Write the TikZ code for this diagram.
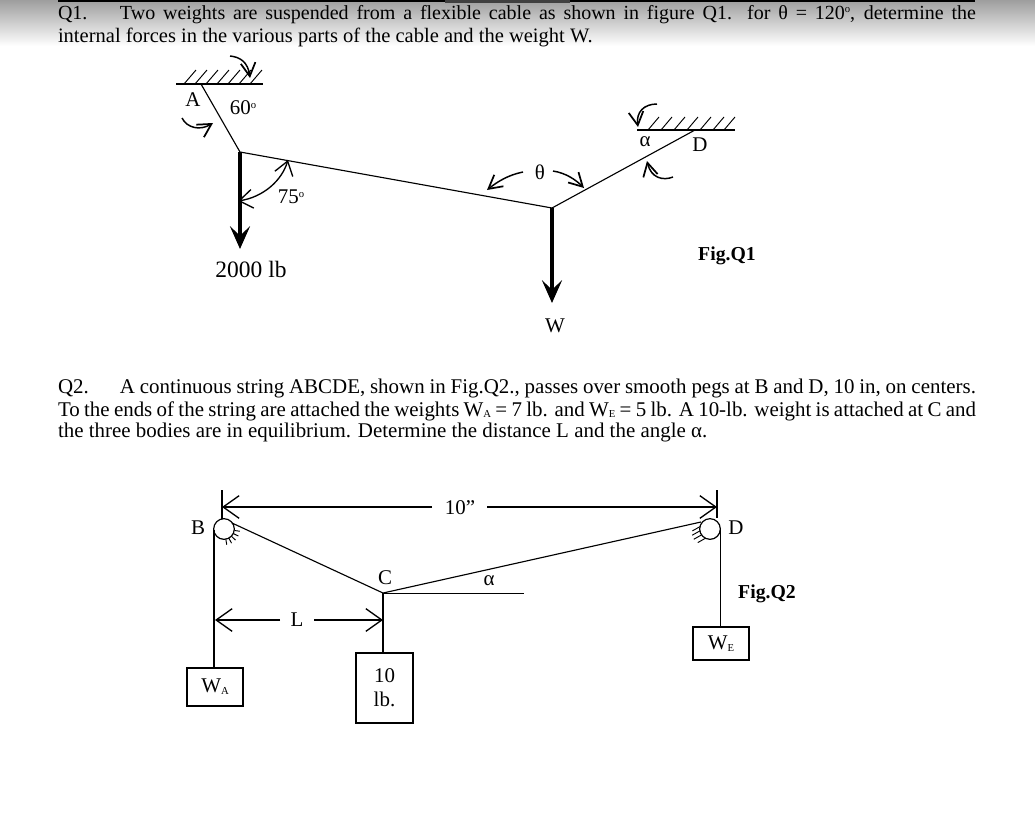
\documentclass[tikz,border=0pt]{standalone}
\usepackage{fontspec}
\setmainfont{Liberation Serif}
\usetikzlibrary{arrows.meta}
\newcommand{\subsc}[1]{\raisebox{-0.2ex}{\footnotesize #1}}
\newcommand{\supsc}[1]{\raisebox{0.7ex}{\footnotesize #1}}
\newcommand{\jline}[1]{\makebox[688.5pt][s]{#1}}
\tikzset{
  x=0.75pt,y=-0.75pt,
  every node/.style={font=\fontsize{15.7pt}{17pt}\selectfont,inner sep=0pt,outer sep=0pt},
  para/.style={anchor=base west},
  lab/.style={anchor=center},
  wire/.style={line width=0.85pt,black},
  bothends/.style={line width=1pt,{Straight Barb[length=10pt,width=14pt,line width=1pt]}-{Straight Barb[length=10pt,width=14pt,line width=1pt]}},
  dim/.style={line width=1pt,-{Straight Barb[length=12pt,width=17pt,line width=1pt]}},
  curl/.style={line width=1.1pt,-{Straight Barb[length=10pt,width=11pt,line width=1.3pt]}},
  load/.style={line width=2.6pt,-{Stealth[length=17pt,width=15pt,inset=7pt]}},
  hatch/.style={line width=0.7pt},
  weightbox/.style={draw,line width=0.9pt,anchor=north west,align=center},
  peg/.style={draw,circle,line width=0.9pt,fill=white},
}
\begin{document}
\begin{tikzpicture}
\useasboundingbox (0,0) rectangle (1035,825);
\shade[top color=black!38,bottom color=white] (0,0) rectangle (1035,46);
\fill[black] (58,0) rectangle (975,1.5);
\fill[black!75] (445,0) rectangle (570,3);

% texts
\node[para,font=\fontsize{15pt}{17pt}\selectfont] (t1) at (58,19) {\jline{\makebox[46.5pt][l]{Q1.}Two weights are suspended from a flexible cable as shown in figure Q1. for θ = 120\supsc{o}, determine the}};
\node[para,font=\fontsize{15.4pt}{17pt}\selectfont] (t2) at (58,42) {internal forces in the various parts of the cable and the weight W.};
\node[para] (t3) at (58,393.5) {\jline{\makebox[46.5pt][l]{Q2.}A continuous string ABCDE, shown in Fig.Q2., passes over smooth pegs at B and D, 10 in, on centers.}};
\node[para] (t4) at (58,416) {\jline{To the ends of the string are attached the weights W\subsc{A} = 7 lb. and W\subsc{E} = 5 lb. A 10-lb. weight is attached at C and}};
\node[para] (t5) at (58,437) {the three bodies are in equilibrium. Determine the distance L and the angle α.};

% ---- Fig Q1
\coordinate (wa1) at (176,84); \coordinate (wa2) at (263,84);
\coordinate (A) at (201,84); \coordinate (K1) at (240,152);
\coordinate (K2) at (552,208); \coordinate (Dq) at (695,130);
\coordinate (wd1) at (637,130); \coordinate (wd2) at (735,130);
\coordinate (F1) at (240,249); \coordinate (F2) at (552,303);
\draw[wire] (wa1) -- (wa2);
\foreach \x in {184,195,206,217,228,239,250} \draw[hatch] (\x,84) -- (\x+12,70);
\draw[wire] (wd1) -- (wd2);
\foreach \x in {648,661,674,687,700,713,724} \draw[hatch] (\x,130) -- (\x+11,117);
\draw[wire] (A) -- (K1) -- (K2) -- (Dq);
\draw[load] (K1) -- (F1);
\draw[load] (K2) -- (F2);

\coordinate (a75a) at (288,160); \coordinate (a75b) at (238,201);
\draw[bothends] (a75a) .. controls (282,180) and (264,197) .. (a75b);

\coordinate (c1a) at (230,56); \coordinate (c1b) at (250,78);
\draw[curl] (c1a) .. controls (240,57) and (248,62) .. (c1b);
\coordinate (c2a) at (182,118); \coordinate (c2b) at (213,123);
\draw[curl] (c2a) .. controls (187,128) and (200,131) .. (c2b);
\coordinate (t1a) at (523,172); \coordinate (t1b) at (487,190);
\draw[curl] (t1a) .. controls (508,175) and (497,182) .. (t1b);
\coordinate (t2a) at (553,171); \coordinate (t2b) at (584,188);
\draw[curl] (t2a) .. controls (566,173) and (576,180) .. (t2b);
\coordinate (c3a) at (657,104); \coordinate (c3b) at (638,127);
\draw[curl] (c3a) .. controls (644,104) and (636,112) .. (c3b);
\coordinate (c4a) at (673,177); \coordinate (c4b) at (647,161);
\draw[curl] (c4a) .. controls (663,181) and (651,178) .. (c4b);

\node[lab] (lA) at (193,100) {A};
\node[lab] (l60) at (243,108) {60\supsc{o}};
\node[lab] (l75) at (291,197) {75\supsc{o}};
\node[lab,font=\fontsize{17.6pt}{19pt}\selectfont] (l2000) at (251,269) {2000 lb};
\node[lab] (ltheta) at (540,172) {θ};
\node[lab] (lW) at (555,326) {W};
\node[lab] (lalpha) at (645,142) {α};
\node[lab] (lD) at (700,145) {D};
\node[lab,font=\fontsize{14.8pt}{16pt}\selectfont\bfseries] (figq1) at (727,256) {Fig.Q1};

% ---- Fig Q2
\foreach \a in {-80,-62,-44,-26,-8}
  \draw[hatch] (224,529) ++ ({10.5*cos(\a)},{-10.5*sin(\a)}) -- ++({5.5*cos(\a)},{-5.5*sin(\a)});
\foreach \a in {165,190,215,245}
  \draw[hatch] (710,529) ++ ({10*cos(\a)},{-10*sin(\a)}) -- ++(-8,4.5);
\node[peg,minimum size=15.5pt] (pB) at (224,529) {};
\node[peg,minimum size=15.5pt] (pD) at (710,529) {};
\node[weightbox,minimum width=42pt,minimum height=28.5pt] (WA) at (187,668) {W\subsc{A}};
\node[weightbox,minimum width=42.75pt,minimum height=52.5pt] (W10) at (356,653) {10\\[1pt]lb.};
\node[weightbox,minimum width=42pt,minimum height=24.75pt] (WE) at (693,627) {W\subsc{E}};
\coordinate (C) at (383,593);
\coordinate (Bs) at (232,523); \coordinate (Ds) at (701,522);
\coordinate (Bt) at (214,530); \coordinate (Dt) at (720.5,530);
\draw[wire] (Bs) -- (C) -- (Ds);
\draw[wire] (Bt) -- (Bt |- WA.north);
\draw[wire] (Dt) -- (Dt |- WE.north);
\draw[wire] (C) -- (C |- W10.north);
\coordinate (Ch) at (524,593);
\draw[line width=0.6pt] (C) -- (Ch);

\coordinate (eB1) at (222,490); \coordinate (eB2) at (222,519);
\coordinate (eD1) at (717,490); \coordinate (eD2) at (717,518);
\draw[wire] (eB1) -- (eB2);
\draw[wire] (eD1) -- (eD2);
\node[lab] (l10) at (460,508) {10”};
\coordinate (dB) at (222,507); \coordinate (dD) at (717,507);
\coordinate (dBs) at (432,507); \coordinate (dDs) at (487,507);
\draw[dim] (dBs) -- (dB);
\draw[dim] (dDs) -- (dD);
\node[lab] (lL) at (297,620) {L};
\coordinate (lLa) at (215,620); \coordinate (lLb) at (383,620);
\coordinate (lLas) at (280,620); \coordinate (lLbs) at (314,620);
\draw[dim] (lLas) -- (lLa);
\draw[dim] (lLbs) -- (lLb);
\node[lab] (lB) at (198,528) {B};
\node[lab] (lD2) at (736,528) {D};
\node[lab] (lC) at (385,578) {C};
\node[lab] (lalpha2) at (489,581) {α};
\node[lab,font=\fontsize{14.8pt}{16pt}\selectfont\bfseries] (figq2) at (767,594) {Fig.Q2};
\end{tikzpicture}
\end{document}
